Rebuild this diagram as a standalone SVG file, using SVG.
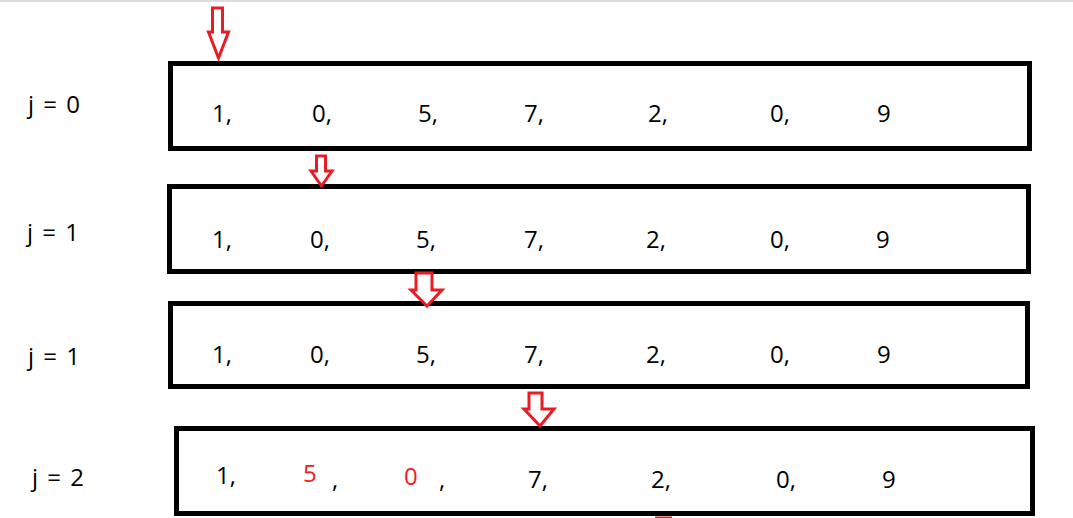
<svg xmlns="http://www.w3.org/2000/svg" width="1073" height="518" viewBox="0 0 1073 518">
<style>
.box{fill:none;stroke:#000;stroke-width:5}
.arr{fill:#fff;stroke:#e81c24;stroke-width:3;stroke-linejoin:miter}
text{font-family:"Open Sans","Noto Sans",sans-serif;font-size:24px;fill:#000}
.lbl{font-size:24px;word-spacing:3px}
.red{fill:#f01c24}
</style>
<rect width="1073" height="518" fill="#fff"/>
<line x1="0" y1="1" x2="1073" y2="1" stroke="#dcdcdc" stroke-width="2"/>
<g id="row0">
<rect class="box" x="170.5" y="63.5" width="859" height="85"/>
<text class="lbl" x="28" y="113">j = 0</text>
<text x="212" y="122">1,</text><text x="312" y="122">0,</text><text x="418" y="122">5,</text><text x="524" y="122">7,</text><text x="648" y="122">2,</text><text x="770" y="122">0,</text><text x="877" y="122">9</text>
</g>
<g id="row1">
<rect class="box" x="169.5" y="186.5" width="859" height="85"/>
<text class="lbl" x="27" y="241">j = 1</text>
<text x="212" y="248">1,</text><text x="310" y="248">0,</text><text x="416" y="248">5,</text><text x="524" y="248">7,</text><text x="646" y="248">2,</text><text x="770" y="248">0,</text><text x="876" y="248">9</text>
</g>
<g id="row2">
<rect class="box" x="170.5" y="303.5" width="857" height="83"/>
<text class="lbl" x="28" y="365">j = 1</text>
<text x="212" y="363">1,</text><text x="310" y="363">0,</text><text x="416" y="363">5,</text><text x="524" y="363">7,</text><text x="646" y="363">2,</text><text x="770" y="363">0,</text><text x="877" y="363">9</text>
</g>
<g id="row3">
<rect class="box" x="176.5" y="428.5" width="856" height="85"/>
<text class="lbl" x="32" y="486">j = 2</text>
<text x="216" y="484">1,</text><text class="red" x="303" y="482">5</text><text x="332" y="488">,</text><text class="red" x="404" y="485">0</text><text x="439" y="488">,</text><text x="528" y="488">7,</text><text x="651" y="488">2,</text><text x="776" y="488">0,</text><text x="882" y="488">9</text>
</g>
<g id="arrows">
<polygon class="arr" points="212.5,8 222.5,8 222.5,32 228.5,32 218.5,58 208.5,32 212.5,32"/>
<polygon class="arr" points="316.5,156 325.5,156 325.5,171 332,171 321.5,186 311,171 316.5,171"/>
<polygon class="arr" points="416,273 432,273 432,290 442,290 427,306 411,290 416,290"/>
<polygon class="arr" points="529,393 542,393 542,409 554,409 540,426 524,409 529,409"/>
</g>
<rect x="655" y="516.5" width="17" height="2" fill="#e81c24"/>
</svg>
